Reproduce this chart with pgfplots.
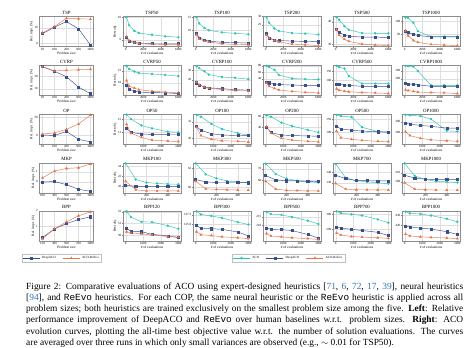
\documentclass[border=0pt]{standalone}
\usepackage{pgfplots}
\usepackage{pgfplotstable}
\pgfplotsset{compat=1.18}
\usepackage{fontspec}
\setmainfont{Liberation Serif}
\setmonofont{Liberation Mono}
\definecolor{acoc}{RGB}{44,196,180}
\definecolor{deepc}{RGB}{58,78,140}
\definecolor{reevoc}{RGB}{232,116,76}
\definecolor{citec}{RGB}{50,115,185}

% ---------- data: x, ACO (a), DeepACO (d), ACO-ReEvo (r) ----------
\pgfplotstableread{
x a d r
100 10.0 6.47 6.58
400 8.57 5.73 5.87
1000 7.58 5.52 5.52
1500 7.21 5.44 5.37
3000 6.89 5.37 5.21
4500 6.63 5.37 5.16
6000 6.47 5.37 5.16
}\tspA
\pgfplotstableread{
x a d r
100 15.1 8.72 8.25
400 12.66 7.09 6.63
1000 10.92 6.28 5.82
1500 10.0 5.82 5.47
3000 9.18 5.35 4.77
4500 8.83 5.24 4.54
6000 8.49 5.06 4.43
}\tspB
\pgfplotstableread{
x a d r
100 29.64 19.80 18.90
400 26.24 17.11 17.11
1000 22.84 16.04 15.68
1500 21.41 15.68 14.79
3000 20.16 15.32 13.53
4500 19.80 15.14 13.17
6000 19.26 14.96 12.64
}\tspC
\pgfplotstableread{
x a d r
100 42.1 36.9 36.5
400 40.9 35.3 34.1
1000 38.1 34.1 32.2
1500 36.5 33.6 31.3
3000 35.0 33.2 30.1
4500 34.9 33.2 29.7
6000 34.9 33.0 29.4
}\tspD
\pgfplotstableread{
x a d r
100 114.6 62.1 63.3
400 112.3 57.6 45.0
1000 94.1 49.6 26.8
1500 62.1 46.2 20.0
3000 41.6 40.5 12.0
4500 41.6 40.5 9.7
6000 41.6 40.5 7.4
}\tspE
\pgfplotstableread{
x a d r
100 17.0 9.1 11.0
400 15.8 7.5 8.6
1000 14.7 6.6 7.85
1500 14.05 6.2 7.2
3000 13.7 6.0 6.6
4500 13.3 5.9 6.2
6000 12.8 5.6 6.0
}\cvA
\pgfplotstableread{
x a d r
100 34.8 16.7 17.3
400 32.8 14.4 14.4
1000 29.2 12.1 12.1
1500 25.6 11.1 10.8
3000 22.9 10.1 9.1
4500 22.0 9.1 8.1
6000 20.6 8.5 7.5
}\cvB
\pgfplotstableread{
x a d r
100 79.2 29.6 26.8
400 75.6 27.7 16.7
1000 67.3 24.0 10.2
1500 51.6 22.2 5.6
3000 40.6 20.4 1.0
4500 38.8 19.4 -1.7
6000 37.8 19.4 -3.6
}\cvC
\pgfplotstableread{
x a d r
100 183.2 77.0 48.7
400 176.1 75.2 39.8
1000 167.3 71.7 34.5
1500 123.0 68.1 31.0
3000 78.8 62.8 25.7
4500 78.8 62.8 23.9
6000 78.8 62.8 20.4
}\cvD
\pgfplotstableread{
x a d r
100 358 141 64
400 354 137 56
1000 351 133 45
1500 295 126 38
3000 119 108 30
4500 119 108 27
6000 119 108 19
}\cvE
\pgfplotstableread{
x a d r
50 15.65 13.61 14.23
300 14.99 13.03 12.90
900 14.05 12.77 12.28
1500 13.61 12.72 11.88
2400 13.12 12.74 11.74
3000 13.03 12.74 11.66
}\opA
\pgfplotstableread{
x a d r
50 32.83 31.41 31.34
300 32.61 30.97 30.32
900 31.74 30.54 29.88
1500 31.12 30.39 29.70
2400 30.61 30.32 29.63
3000 30.36 30.36 29.55
}\opB
\pgfplotstableread{
x a d r
50 62.7 39.9 41.1
300 59.9 29.7 28.5
900 48.5 25.1 18.8
1500 42.2 24.0 15.4
2400 34.8 23.4 13.1
3000 30.2 22.8 12.0
}\opC
\pgfplotstableread{
x a d r
50 166.1 123.4 105.4
300 161.6 113.3 80.6
900 158.3 108.8 75.0
1500 120.0 105.4 70.5
2400 103.1 103.1 67.1
3000 99.8 102.0 66.0
}\opD
\pgfplotstableread{
x a d r
50 365.6 286.9 208.2
300 362.8 278.5 171.7
900 354.3 267.2 146.4
1500 326.2 258.8 132.3
2400 216.6 241.9 123.9
3000 211.0 241.9 118.3
}\opE
\pgfplotstableread{
x a d r
5 24.63 20.21 21.0
100 21.36 19.97 19.3
200 20.76 19.97 19.06
300 20.58 19.97 19.06
400 20.45 19.97 19.06
500 20.39 19.97 19.06
}\mkA
\pgfplotstableread{
x a d r
5 62.56 60.81 60.62
100 61.36 60.55 59.81
200 60.94 60.49 59.75
300 60.65 60.49 59.71
400 60.55 60.49 59.68
500 60.49 60.46 59.68
}\mkB
\pgfplotstableread{
x a d r
5 74.46 63.94 58.94
100 65.26 60.26 52.11
200 61.31 59.47 51.05
300 59.47 59.21 50.79
400 58.42 58.94 50.53
500 57.89 58.68 50.53
}\mkC
\pgfplotstableread{
x a d r
5 148.5 137.4 129.4
100 134.7 134.1 123.8
200 132.1 132.1 123.2
300 130.9 132.1 123.2
400 130.0 131.8 123.0
500 129.1 131.8 123.0
}\mkD
\pgfplotstableread{
x a d r
5 220.6 207.3 199.0
100 206.6 204.3 192.0
200 202.7 203.0 191.3
300 200.7 202.7 191.0
400 200.0 202.7 191.0
500 199.3 202.7 191.0
}\mkE
\pgfplotstableread{
x a d r
50 52.05 50.64 50.31
300 51.56 50.31 50.21
900 51.15 50.31 50.13
1500 51.13 50.08 50.03
2400 50.82 49.95 49.90
3000 50.56 49.80 49.85
}\bpA
\pgfplotstableread{
x a d r
50 128.4 124.7 123.13
300 127.6 124.06 122.35
900 127.2 123.9 122.12
1500 126.7 123.75 121.81
2400 125.6 123.05 121.58
3000 125.0 122.04 121.34
}\bpB
\pgfplotstableread{
x a d r
50 217.7 208.6 205.3
300 216.5 207.7 203.95
900 216.0 207.6 203.4
1500 214.8 207.0 202.9
2400 212.7 204.8 202.4
3000 210.8 202.7 201.9
}\bpC
\pgfplotstableread{
x a d r
50 302.0 291.6 287.6
300 300.8 290.8 286.2
900 300.0 290.0 285.2
1500 299.2 289.2 284.8
2400 296.6 288.0 284.4
3000 294.4 285.8 284.0
}\bpD
\pgfplotstableread{
x a d r
50 433.8 419.1 411.3
300 432.0 418.5 409.5
900 431.4 417.3 408.6
1500 429.9 416.4 408.0
2400 426.6 413.7 407.4
3000 423.6 411.0 406.8
}\bpE

% ---------- left column: relative improvement (x = category index) ----------
\pgfplotstableread{
x d r
0 6.2 6.7
1 10.4 10.7
2 14.0 16.2
3 9.3 15.8
4 -1.3 15.6
}\ltsp
\pgfplotstableread{
x d r
0 27.6 27.4
1 23.9 24.2
2 19.5 24.7
3 11.3 25.1
4 6.0 25.5
}\lcvrp
\pgfplotstableread{
x d r
0 0 3
1 -1 6
2 10 16
3 -12 31
4 -19 56
}\lop
\pgfplotstableread{
x d r
0 0.0 0.4
1 0.03 1.07
2 -0.27 1.33
3 -0.73 1.4
4 -0.93 1.77
}\lmkp
\pgfplotstableread{
x d r
0 0.28 0.2
1 0.83 0.83
2 1.17 1.28
3 1.43 1.67
4 1.61 1.93
}\lbpp

\pgfplotsset{
  base/.style={scale only axis, anchor=north west, clip=false,
    axis line style={black!45, line width=0.3pt},
    grid=major, grid style={black!13, line width=0.25pt},
    tick style={black!50, line width=0.25pt}, major tick length=1pt,
    tick align=outside, tick pos=left,
    ticklabel style={font=\fontsize{3.2}{3.5}\selectfont, inner sep=0.6pt},
    title style={font=\fontsize{4.8}{5}\selectfont, inner sep=0.6pt, yshift=-5pt},
    label style={font=\fontsize{3.5}{4}\selectfont, inner sep=0.5pt},
    /pgf/number format/assume math mode=true,
    /pgf/number format/1000 sep={}, scaled ticks=false},
  rp/.style={base, width=58pt, height=30pt, xlabel={\# of evaluations}},
  rtsp/.style={rp, xmin=-300, xmax=6300, xtick={0,2000,4000,6000}},
  rop/.style={rp, xmin=-150, xmax=3150, xtick={0,1000,2000,3000}},
  rmk/.style={rp, xmin=-20, xmax=525, xtick={0,200,400}},
  lp/.style={base, width=54pt, height=30pt, xlabel={Problem size},
    ylabel={Rel. impr. (\%)}, xmin=-0.25, xmax=4.25, xtick={0,...,4}},
  aco/.style={color=acoc, line width=0.45pt, mark=*, mark size=1.0pt},
  deep/.style={color=deepc, line width=0.45pt, mark=square*, mark size=1.05pt},
  reevo/.style={color=reevoc, line width=0.45pt, mark=triangle*, mark size=1.2pt},
}
\newcommand{\tri}[1]{%
  \addplot[aco] table[x=x,y=a]{#1};
  \addplot[deep] table[x=x,y=d]{#1};
  \addplot[reevo] table[x=x,y=r]{#1};}
\newcommand{\duo}[1]{%
  \addplot[deep] table[x=x,y=d]{#1};
  \addplot[reevo] table[x=x,y=r]{#1};}
\newcommand{\ci}[1]{\textcolor{citec}{#1}}

\begin{document}
\begin{tikzpicture}

% ===== left column =====
\begin{axis}[lp, at={(39.5pt,-16.5pt)}, title={TSP}, ymin=-2.2, ymax=17.3, ytick={0,10},
  xticklabels={50,100,200,500,1000}]
\duo{\ltsp}
\end{axis}
\begin{axis}[lp, at={(39.5pt,-65pt)}, title={CVRP}, ymin=5, ymax=28.9, ytick={10,20},
  xticklabels={50,100,200,500,1000}]
\duo{\lcvrp}
\end{axis}
\begin{axis}[lp, at={(39.5pt,-114pt)}, title={OP}, ymin=-25, ymax=59, ytick={0,50},
  xticklabels={50,100,200,500,1000}]
\duo{\lop}
\end{axis}
\begin{axis}[lp, at={(39.5pt,-162.7pt)}, title={MKP}, ymin=-1.07, ymax=1.9, ytick={0,1},
  xticklabels={100,300,500,700,1000}]
\duo{\lmkp}
\end{axis}
\begin{axis}[lp, at={(39.5pt,-210.7pt)}, title={BPP}, ymin=0.07, ymax=2.0, ytick={1,2},
  xticklabels={120,300,500,700,1000},
  legend style={at={(0.41,-0.58)}, anchor=center, legend columns=2,
    font=\fontsize{3.2}{3.5}\selectfont, draw=black!25, line width=0.25pt,
    inner sep=0.6pt, /tikz/every even column/.append style={column sep=5pt}}]
\duo{\lbpp}
\legend{DeepACO, ACO-ReEvo}
\end{axis}

% ===== right grid: TSP =====
\begin{axis}[rtsp, at={(123pt,-16.5pt)}, title={TSP50}, ylabel={Best obj.}, ymin=4.84, ymax=10.1, ytick={6,10}]
\tri{\tspA}
\end{axis}
\begin{axis}[rtsp, at={(193pt,-16.5pt)}, title={TSP100}, ymin=3.73, ymax=15.35, ytick={10,15}]
\tri{\tspB}
\end{axis}
\begin{axis}[rtsp, at={(263pt,-16.5pt)}, title={TSP200}, ymin=12.1, ymax=30, ytick={25,30}]
\tri{\tspC}
\end{axis}
\begin{axis}[rtsp, at={(333pt,-16.5pt)}, title={TSP500}, ymin=29, ymax=42.4, ytick={30,40}]
\tri{\tspD}
\end{axis}
\begin{axis}[rtsp, at={(402pt,-16.5pt)}, title={TSP1000}, ymin=4, ymax=118, ytick={50,100}]
\tri{\tspE}
\end{axis}

% ===== CVRP =====
\begin{axis}[rtsp, at={(123pt,-65pt)}, title={CVRP50}, ylabel={Best obj.}, ymin=5, ymax=17.4, ytick={10,15}]
\tri{\cvA}
\end{axis}
\begin{axis}[rtsp, at={(193pt,-65pt)}, title={CVRP100}, ymin=3.2, ymax=36.1, ytick={20,30}]
\tri{\cvB}
\end{axis}
\begin{axis}[rtsp, at={(263pt,-65pt)}, title={CVRP200}, ymin=-10, ymax=82, ytick={40,60,80}]
\tri{\cvC}
\end{axis}
\begin{axis}[rtsp, at={(333pt,-65pt)}, title={CVRP500}, ymin=11.5, ymax=188.5, ytick={100,150}]
\tri{\cvD}
\end{axis}
\begin{axis}[rtsp, at={(402pt,-65pt)}, title={CVRP1000}, ymin=1, ymax=369, ytick={200,300}]
\tri{\cvE}
\end{axis}

% ===== OP =====
\begin{axis}[rop, at={(123pt,-114pt)}, title={OP50}, ylabel={Best obj.}, ymin=11.3, ymax=15.74, ytick={13,15}]
\tri{\opA}
\end{axis}
\begin{axis}[rop, at={(193pt,-114pt)}, title={OP100}, ymin=29.3, ymax=32.94, ytick={30,32}]
\tri{\opB}
\end{axis}
\begin{axis}[rop, at={(263pt,-114pt)}, title={OP200}, ymin=8, ymax=65, ytick={40,60}]
\tri{\opC}
\end{axis}
\begin{axis}[rop, at={(333pt,-114pt)}, title={OP500}, ymin=57, ymax=169.5, ytick={100,150}]
\tri{\opD}
\end{axis}
\begin{axis}[rop, at={(402pt,-114pt)}, title={OP1000}, ymin=93, ymax=374, ytick={200,300}]
\tri{\opE}
\end{axis}

% ===== MKP =====
\begin{axis}[rmk, at={(123pt,-162.7pt)}, title={MKP100}, ylabel={Best obj.}, ymin=18.7, ymax=24.75, ytick={20,22,24}]
\tri{\mkA}
\end{axis}
\begin{axis}[rmk, at={(193pt,-162.7pt)}, title={MKP300}, ymin=59.39, ymax=62.62, ytick={60,62}]
\tri{\mkB}
\end{axis}
\begin{axis}[rmk, at={(263pt,-162.7pt)}, title={MKP500}, ymin=48.95, ymax=75.3, ytick={60,70}]
\tri{\mkC}
\end{axis}
\begin{axis}[rmk, at={(333pt,-162.7pt)}, title={MKP700}, ymin=120.3, ymax=149.7, ytick={130,140}]
\tri{\mkD}
\end{axis}
\begin{axis}[rmk, at={(402pt,-162.7pt)}, title={MKP1000}, ymin=188, ymax=221.3, ytick={200,210}]
\tri{\mkE}
\end{axis}

% ===== BPP =====
\begin{axis}[rop, at={(123pt,-210.7pt)}, title={BPP120}, ylabel={Best obj.}, ymin=49.54, ymax=52.1, ytick={50,51,52}]
\tri{\bpA}
\end{axis}
\begin{axis}[rop, at={(193pt,-210.7pt)}, title={BPP300}, ymin=120.8, ymax=128.56, ytick={125,127.5},
  yticklabels={125.0,127.5}]
\tri{\bpB}
\end{axis}
\begin{axis}[rop, at={(263pt,-210.7pt)}, title={BPP500}, ymin=201.2, ymax=218.4, ytick={210,215},
  legend style={at={(0.44,-0.58)}, anchor=center, legend columns=3,
    font=\fontsize{3.2}{3.5}\selectfont, draw=black!25, line width=0.25pt,
    inner sep=0.6pt, /tikz/every even column/.append style={column sep=5pt}}]
\tri{\bpC}
\legend{ACO, DeepACO, ACO-ReEvo}
\end{axis}
\begin{axis}[rop, at={(333pt,-210.7pt)}, title={BPP700}, ymin=282.4, ymax=302.4, ytick={290,300}]
\tri{\bpD}
\end{axis}
\begin{axis}[rop, at={(402pt,-210.7pt)}, title={BPP1000}, ymin=404.7, ymax=434.7, ytick={420,430}]
\tri{\bpE}
\end{axis}

% ===== caption =====
\node[anchor=north west, inner sep=0pt, text width=437pt, align=justify,
  font=\fontsize{9.4}{11.2}\selectfont] at (26pt,-282.5pt) {%
Figure 2: Comparative evaluations of ACO using expert-designed heuristics
[\ci{71}, \ci{6}, \ci{72}, \ci{17}, \ci{39}], neural heuristics\linebreak{}%
[\ci{94}], and \texttt{ReEvo} heuristics. For each COP, the same neural heuristic or the \texttt{ReEvo} heuristic is applied across all\linebreak{}%
problem sizes; both heuristics are trained exclusively on the smallest problem size among the five. \textbf{Left}: Relative\linebreak{}%
performance improvement of DeepACO and \texttt{ReEvo} over human baselines w.r.t. problem sizes. \textbf{Right}: ACO\linebreak{}%
evolution curves, plotting the all-time best objective value w.r.t. the number of solution evaluations. The curves\linebreak{}%
are averaged over three runs in which only small variances are observed (e.g., $\sim$ 0.01 for TSP50).};

\pgfresetboundingbox
\useasboundingbox (0,0) rectangle (474pt,-348pt);
\end{tikzpicture}
\end{document}
